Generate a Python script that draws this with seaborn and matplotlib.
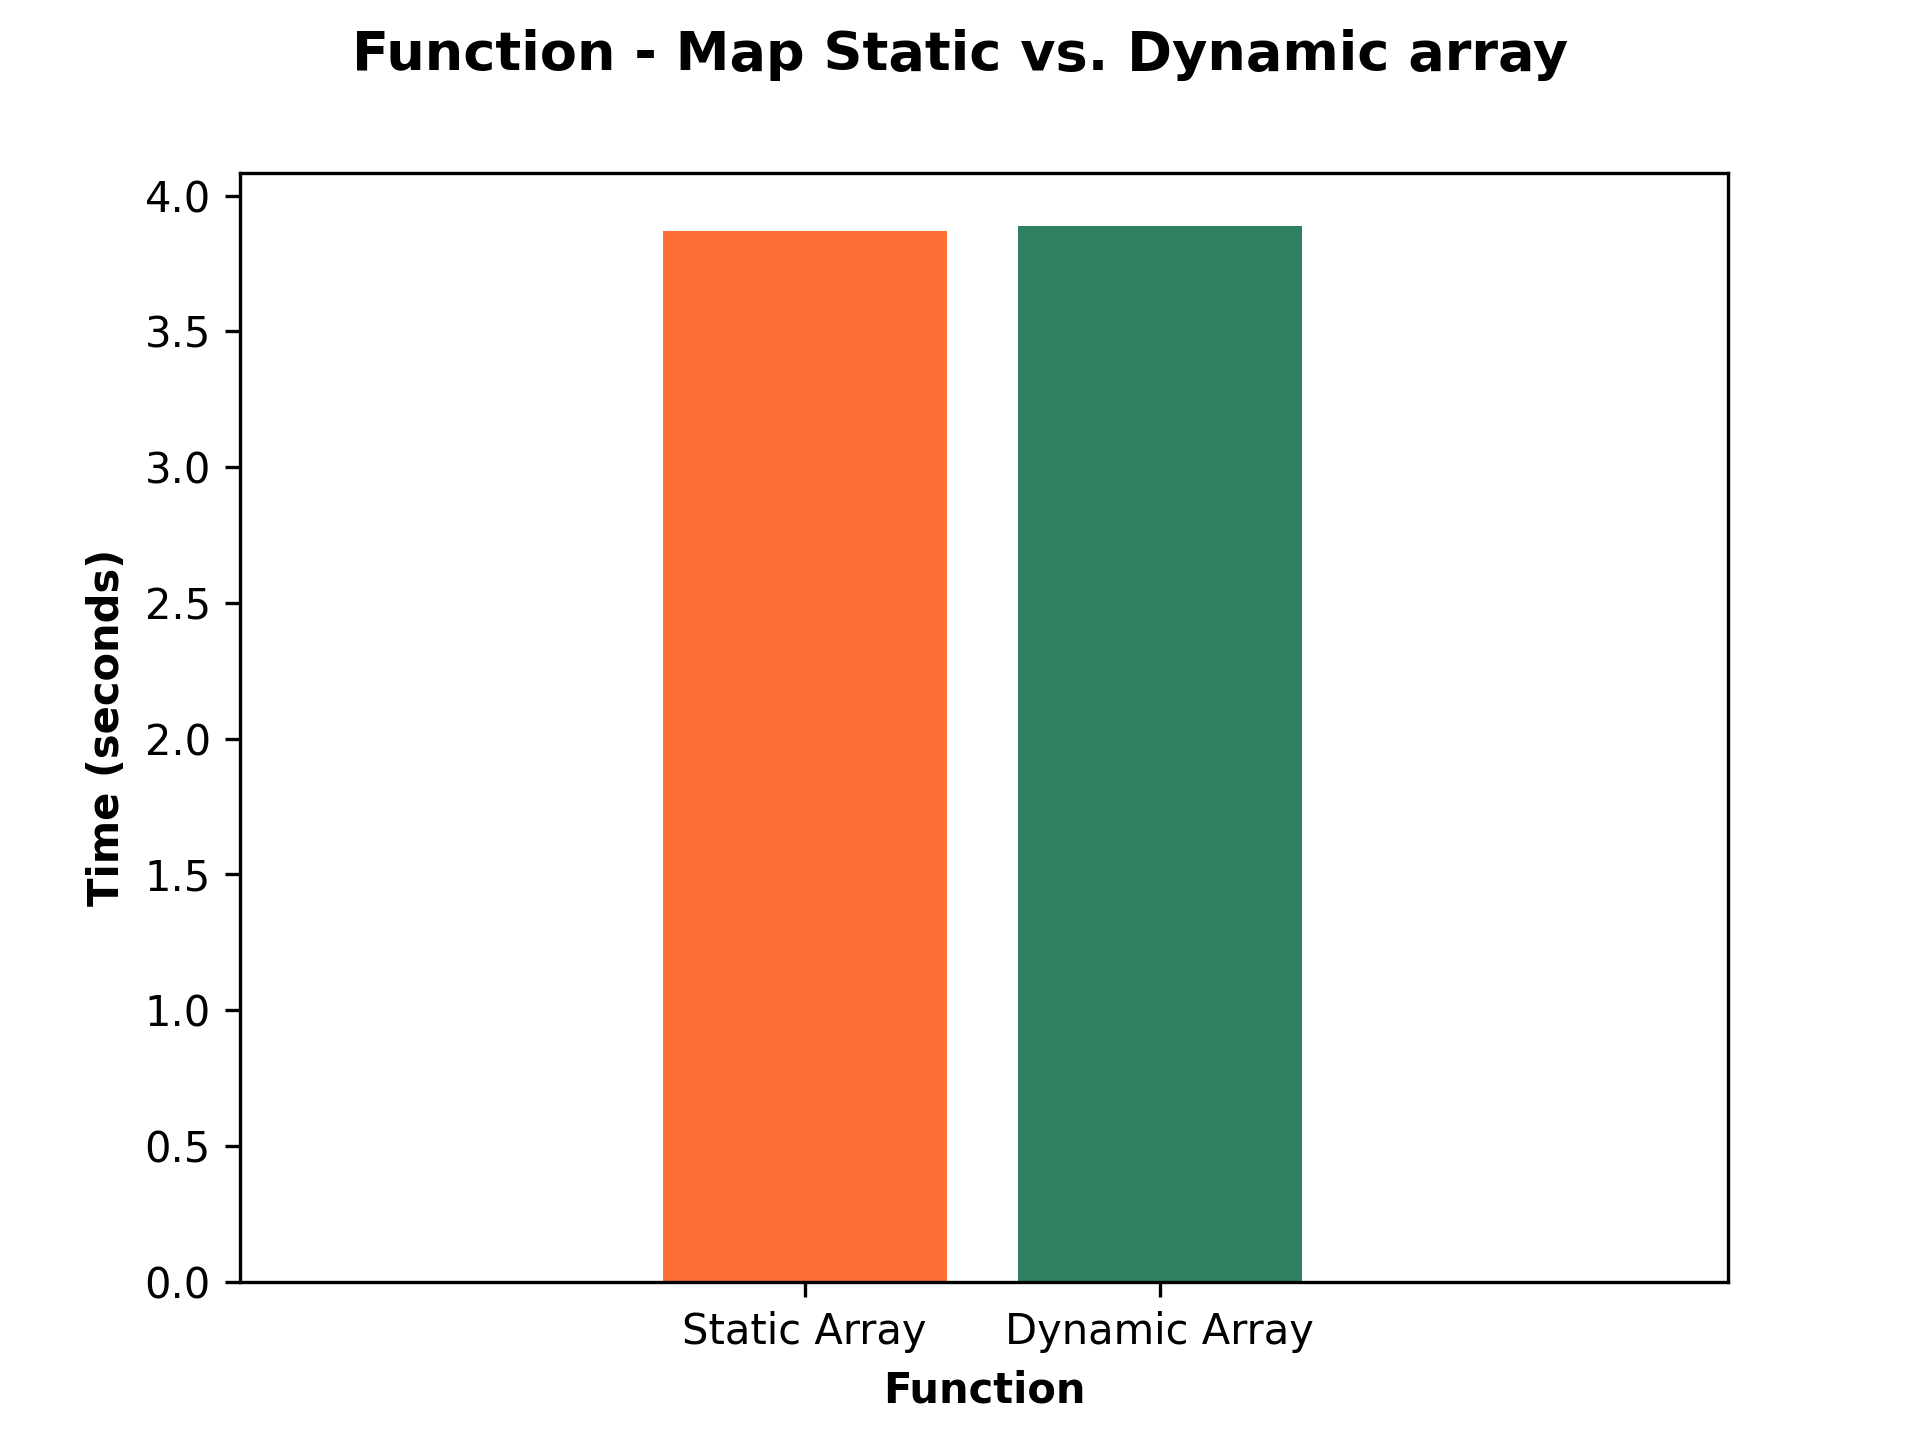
import matplotlib
matplotlib.use("Agg")
import matplotlib.pyplot as plt
import seaborn as sns
import pandas as pd

categories = ["Static Array", "Dynamic Array"]
times = [3.87, 3.89]
colors = ["#FF6F35", "#2E8060"]

df = pd.DataFrame({"Function": categories, "Time": times})
fig, ax = plt.subplots(figsize=(6.4, 4.8), dpi=300)
sns.barplot(data=df, x="Function", y="Time", hue="Function", palette=colors,
            width=0.8, saturation=1, legend=False, ax=ax)
ax.set_xlim(-1.59, 2.6)
ax.set_xlabel("Function", fontweight="bold")
ax.set_ylabel("Time (seconds)", fontweight="bold")
fig.suptitle("Function - Map Static vs. Dynamic array", fontweight="bold", fontsize=13)
fig.savefig("out.png", dpi=300)
